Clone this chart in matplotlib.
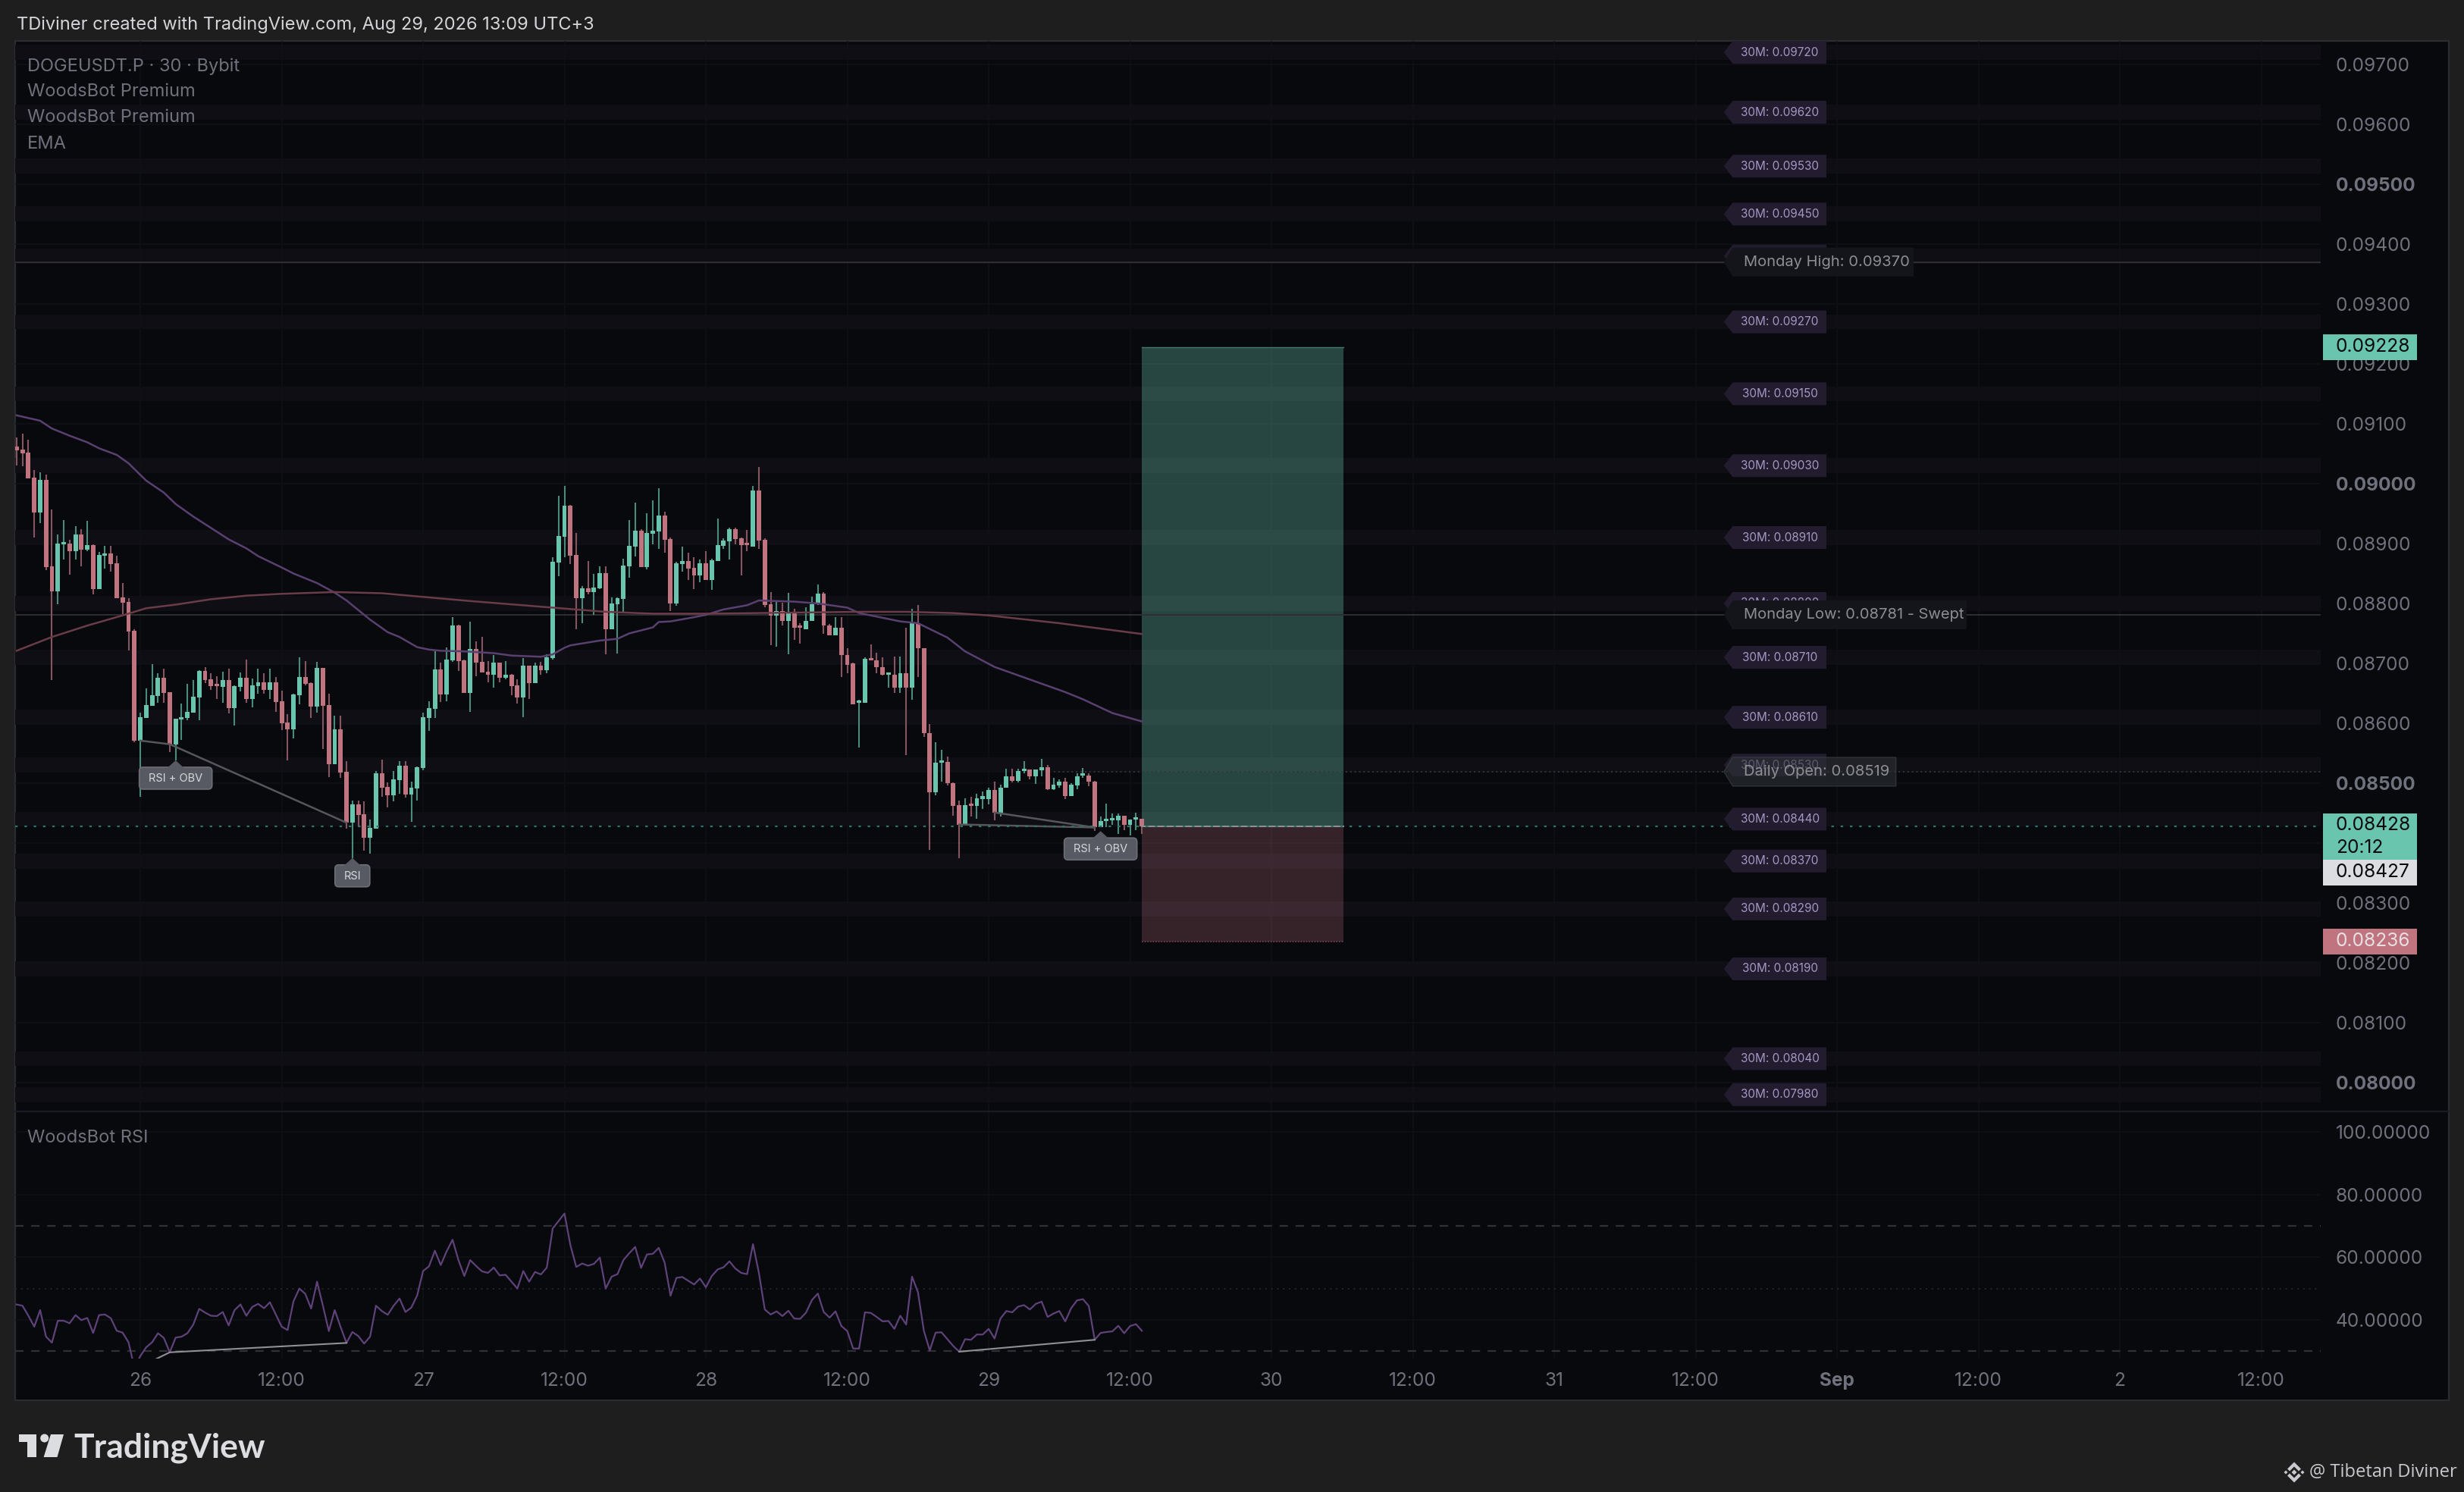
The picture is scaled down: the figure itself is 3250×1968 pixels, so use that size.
import numpy as np
import matplotlib
matplotlib.use("Agg")
import matplotlib.pyplot as plt
from matplotlib.patches import Rectangle, Polygon, Circle, FancyBboxPatch

plt.rcParams["font.family"] = ["Inter", "DejaVu Sans"]

# prices below are in ticks of 0.00001, bar index 0 = Aug 26 00:00 (30 min bars)
first_bar = -21
opens = [
    9062,9057,9052,9010,8952,9006,8862,8820,8899,8900,
    8887,8915,8890,8897,8824,8880,8883,8867,8810,8803,
    8754,8571,8609,8629,8646,8676,8652,8565,8606,8609,
    8618,8643,8687,8673,8665,8661,8672,8625,8661,8676,
    8641,8662,8668,8656,8668,8637,8601,8590,8647,8677,
    8667,8628,8692,8630,8532,8590,8519,8434,8465,8448,
    8409,8424,8516,8494,8480,8505,8529,8481,8491,8525,
    8609,8624,8690,8648,8705,8763,8705,8651,8724,8702,
    8686,8681,8701,8676,8681,8663,8643,8696,8667,8696,
    8689,8709,8868,8911,8963,8881,8809,8825,8819,8825,
    8851,8757,8799,8808,8862,8895,8921,8861,8916,8920,
    8947,8908,8800,8866,8871,8859,8847,8867,8839,8871,
    8896,8904,8924,8909,8900,8895,8989,8906,8799,8780,
    8787,8771,8785,8760,8757,8771,8799,8816,8763,8747,
    8760,8714,8700,8634,8634,8708,8705,8694,8681,8681,
    8660,8683,8660,8767,8725,8584,8485,8534,8535,8500,
    8463,8431,8463,8462,8474,8474,8488,8451,8492,8511,
    8504,8520,8523,8511,8521,8527,8490,8496,8502,8478,
    8496,8513,8513,8503,8426,8437,8438,8438,8445,8430,
    8439,8441]
closes = [
    9056,9051,9009,8952,9006,8861,8820,8900,8901,8887,
    8915,8890,8897,8824,8881,8883,8866,8809,8801,8753,
    8571,8610,8630,8647,8676,8651,8565,8608,8610,8619,
    8644,8687,8672,8662,8662,8672,8625,8662,8676,8641,
    8663,8668,8656,8668,8635,8600,8590,8648,8677,8666,
    8628,8692,8629,8532,8590,8518,8434,8465,8447,8409,
    8425,8516,8492,8480,8506,8529,8481,8492,8527,8610,
    8625,8690,8648,8706,8763,8704,8651,8724,8701,8685,
    8681,8701,8676,8681,8662,8643,8696,8667,8696,8689,
    8710,8870,8913,8963,8880,8809,8825,8819,8827,8851,
    8757,8800,8809,8863,8896,8921,8861,8918,8921,8947,
    8906,8800,8867,8871,8858,8847,8867,8839,8872,8897,
    8905,8924,8908,8897,8897,8989,8905,8797,8780,8787,
    8771,8785,8759,8759,8771,8799,8816,8763,8747,8760,
    8714,8698,8632,8635,8707,8705,8694,8681,8683,8660,
    8683,8660,8767,8725,8584,8485,8534,8535,8500,8462,
    8431,8463,8462,8475,8476,8488,8451,8493,8511,8504,
    8520,8523,8511,8523,8527,8490,8497,8502,8478,8497,
    8511,8516,8502,8426,8437,8439,8441,8445,8430,8439,
    8441,8428]
highs = [
    9077,9084,9073,9023,9019,9015,8957,8915,8939,8906,
    8929,8924,8938,8899,8886,8896,8896,8880,8834,8809,
    8757,8618,8658,8699,8683,8691,8652,8608,8633,8666,
    8672,8689,8694,8684,8679,8686,8691,8663,8685,8706,
    8675,8691,8684,8691,8677,8654,8615,8649,8710,8704,
    8668,8703,8692,8649,8613,8613,8537,8471,8471,8470,
    8439,8520,8539,8501,8520,8537,8537,8503,8528,8618,
    8637,8720,8701,8727,8777,8765,8706,8770,8737,8744,
    8704,8714,8701,8704,8682,8673,8709,8696,8701,8702,
    8715,8877,8980,8996,8965,8918,8829,8871,8849,8862,
    8862,8810,8810,8875,8939,8968,8924,8951,8972,8992,
    8953,8910,8870,8895,8885,8877,8873,8887,8875,8942,
    8909,8927,8927,8910,8923,8996,9028,8909,8819,8804,
    8801,8818,8791,8767,8794,8811,8832,8819,8766,8777,
    8777,8725,8701,8639,8710,8732,8718,8710,8683,8711,
    8711,8760,8791,8798,8725,8599,8568,8556,8544,8501,
    8471,8475,8477,8482,8486,8492,8503,8497,8524,8524,
    8524,8537,8523,8523,8540,8530,8509,8506,8509,8500,
    8516,8525,8517,8504,8444,8466,8450,8450,8445,8439,
    8451,8441]
lows = [
    9030,9029,9009,8910,8934,8856,8672,8799,8873,8848,
    8873,8862,8887,8815,8824,8858,8853,8809,8782,8722,
    8568,8477,8609,8629,8634,8634,8552,8538,8572,8605,
    8618,8605,8667,8656,8641,8634,8617,8596,8653,8634,
    8627,8649,8649,8641,8619,8589,8538,8575,8632,8663,
    8609,8618,8557,8510,8532,8509,8424,8375,8427,8387,
    8382,8424,8477,8459,8470,8482,8476,8435,8471,8522,
    8587,8609,8635,8637,8703,8687,8651,8619,8678,8685,
    8668,8659,8668,8673,8647,8633,8610,8640,8667,8681,
    8684,8706,8846,8877,8866,8757,8767,8815,8781,8824,
    8715,8757,8716,8785,8843,8878,8861,8857,8899,8891,
    8885,8787,8796,8853,8839,8824,8835,8839,8823,8871,
    8891,8873,8899,8847,8887,8895,8891,8794,8730,8728,
    8763,8715,8739,8733,8757,8771,8797,8749,8747,8747,
    8677,8683,8631,8559,8634,8705,8683,8680,8659,8650,
    8650,8547,8639,8677,8577,8388,8480,8503,8496,8445,
    8375,8430,8444,8440,8457,8464,8438,8444,8492,8501,
    8501,8516,8506,8499,8511,8488,8489,8492,8474,8478,
    8490,8509,8495,8420,8426,8426,8431,8415,8422,8413,
    8422,8415]

# EMA lines, read at their visible bends
ema_fast_x = [-21,-17,-15,-12,-9,-7,-4,-2,1,4,6,9,12,15,18,20,24,26,30,33,35,37,39,42,44,47,49,51,55,60,63,68,70,72,73,78,81,83,87,88,90,94,96,99,103,105,111,115,120,122,129,132,137,140,145,151,157,160,165,170]
ema_fast = [9114,9105,9092,9080,9069,9059,9048,9034,9005,8985,8966,8945,8926,8907,8892,8879,8860,8850,8834,8818,8805,8789,8773,8752,8744,8727,8723,8721,8720,8717,8713,8711,8715,8726,8730,8738,8741,8750,8760,8769,8770,8777,8781,8790,8797,8805,8803,8800,8793,8784,8770,8767,8743,8720,8694,8673,8652,8640,8617,8603]
ema_slow_x = [-21,-15,-9,-3,1,6,12,18,24,33,41,56,70,79,87,96,122,130,138,144,156,170]
ema_slow = [8721,8744,8763,8780,8792,8798,8807,8813,8816,8819,8817,8804,8793,8786,8783,8783,8786,8786,8784,8780,8767,8749]

# RSI, one value per bar
rsi = [
    44.9,44.5,41.3,37.8,43.1,34.6,32.7,39.7,39.7,38.9,
    41.5,39.9,40.6,35.8,41.5,41.7,40.5,36.5,35.9,32.8,
    24.7,28.4,31.2,32.8,35.7,34.2,29.6,34.3,34.6,35.7,
    38.5,43.5,42.3,41.3,41.2,42.5,38.2,43.1,44.9,41.3,
    44.1,45.1,43.7,45.6,41.7,37.8,36.7,45.9,50.0,48.3,
    43.6,52.2,44.5,36.4,43.1,37.7,32.6,36.1,34.8,32.4,
    34.6,44.5,42.8,41.6,44.5,46.8,42.5,43.9,47.8,55.6,
    57.1,62.1,57.5,61.9,65.6,59.1,54.0,59.1,57.2,55.5,
    55.0,56.7,54.2,54.4,52.2,50.0,55.6,52.2,55.3,54.5,
    56.7,69.2,71.6,74.0,63.9,56.9,58.0,57.3,57.9,59.9,
    50.0,53.8,54.6,59.1,61.3,63.3,56.6,60.9,61.1,63.0,
    58.3,47.7,53.4,53.7,52.5,51.3,53.2,50.4,54.0,56.1,
    56.8,58.7,56.4,55.0,54.6,64.2,55.0,43.3,41.7,42.7,
    41.2,42.9,40.4,40.3,42.3,46.3,48.4,42.5,40.7,42.7,
    38.0,36.4,30.8,30.8,42.4,42.2,40.9,39.5,39.6,37.1,
    41.3,38.5,53.8,48.8,36.5,30.2,35.9,36.0,33.8,31.6,
    29.8,33.8,33.6,35.3,35.3,37.1,34.0,40.4,42.8,42.4,
    44.2,44.7,43.3,45.1,45.8,40.9,42.0,42.8,39.5,43.7,
    46.2,46.6,44.4,33.6,35.8,36.1,36.3,38.1,35.7,38.0,
    38.6,36.5]

# divergence lines as (bar, value) pairs
div_price = [([0, 5, 35], [8571, 8565, 8434]),
             ([139, 162], [8431, 8426]),
             ([145, 162], [8451, 8426])]
div_rsi = [([0, 5, 35], [25.0, 29.6, 32.6]),
           ([139, 162], [29.8, 33.6])]
# callouts: bar, price of the pointer tip, text
signals = [(6, 8538, "RSI + OBV"), (36, 8375, "RSI"), (163, 8420, "RSI + OBV")]

levels_30m = [9720, 9620, 9530, 9450, 9380, 9270, 9150, 9030, 8910, 8800,
              8710, 8610, 8530, 8440, 8370, 8290, 8190, 8040, 7980]
monday_high = 9370
monday_low = 8781
daily_open = 8519
last_price = 8428
bid_price = 8427
target = 9228
stop = 8236
box_bars = (170, 204.2)

price_ticks = list(range(8000, 9701, 100))
price_bold = [8000, 8500, 9000, 9500]
rsi_ticks = [40, 60, 80, 100]
time_ticks = list(range(0, 361, 24))
time_labels = ["26", "12:00", "27", "12:00", "28", "12:00", "29", "12:00",
               "30", "12:00", "31", "12:00", "Sep", "12:00", "2", "12:00"]

FRAME = "#1e1e1e"
PANE = "#08090d"
BAND = "#0f0e14"
GRID = "#101116"
TEXT = "#6f727c"
UP, DOWN = "#69c5ae", "#c07480"
UP_W, DOWN_W = "#4b8b7c", "#875560"
TICK = 1e-5

W, H = 3250, 1968
fig = plt.figure(figsize=(W / 100, H / 100), dpi=100, facecolor=FRAME)


def ax_box(x0, y0, x1, y1):
    return [x0 / W, 1 - y1 / H, (x1 - x0) / W, (y1 - y0) / H]


back = fig.add_axes([0, 0, 1, 1], zorder=0)
back.set_xlim(0, W)
back.set_ylim(H, 0)
back.axis("off")
back.add_patch(Rectangle((20, 54), 3210, 1793, fc=PANE, ec="#2b2c31", lw=1.6))

ax = fig.add_axes(ax_box(20, 54, 3061, 1466), zorder=1, facecolor="none")
ar = fig.add_axes(ax_box(20, 1467, 3061, 1792), zorder=1, facecolor="none", sharex=ax)
top = fig.add_axes([0, 0, 1, 1], zorder=5, facecolor="none")
top.set_xlim(0, W)
top.set_ylim(H, 0)
top.axis("off")

ax.set_xlim(-21.24, 370.1)
ax.set_ylim(0.07952, 0.09739)
ar.set_ylim(27.6, 106.4)
for a in (ax, ar):
    for s in a.spines.values():
        s.set_visible(False)
    a.yaxis.tick_right()
    a.grid(True, color=GRID, lw=1.2, zorder=0)
    a.set_axisbelow(True)

# price scale
ax.set_yticks([t * TICK for t in price_ticks])
ax.set_yticklabels([f"{t * TICK:.5f}" for t in price_ticks])
ax.tick_params(axis="y", length=0, pad=14, labelsize=17.6, labelcolor=TEXT)
for t, lab in zip(price_ticks, ax.get_yticklabels()):
    if t in price_bold:
        lab.set_fontweight("bold")
ax.set_xticks(time_ticks)
ax.tick_params(axis="x", length=0, labelbottom=False)

# zones behind the candles
for lv in levels_30m:
    ax.axhspan((lv - 12.5) * TICK, (lv + 12.5) * TICK, fc=BAND, lw=0, zorder=0.5)

# position box
ax.add_patch(Rectangle((box_bars[0], last_price * TICK), box_bars[1] - box_bars[0],
                       (target - last_price) * TICK, fc=UP, alpha=0.33, lw=0, zorder=1))
ax.add_patch(Rectangle((box_bars[0], stop * TICK), box_bars[1] - box_bars[0],
                       (last_price - stop) * TICK, fc=DOWN, alpha=0.25, lw=0, zorder=1))
ax.plot(box_bars, [last_price * TICK] * 2, color="#8b9094", lw=1.5, zorder=3)
ax.plot(box_bars, [stop * TICK] * 2, color="#6e3d47", lw=1.3, ls=(0, (1, 1)), zorder=3)
ax.plot(box_bars, [target * TICK] * 2, color="#3f7a6b", lw=1, zorder=3)

# horizontal levels
ax.axhline(monday_high * TICK, color="#302e32", lw=1.4, zorder=1.5)
ax.axhline(monday_low * TICK, color="#302e32", lw=1.4, zorder=1.5)
ax.plot([155, 370.1], [daily_open * TICK] * 2, color="#33353a", lw=1.4, ls=(0, (1, 2)), zorder=1.5)
ax.axhline(last_price * TICK, color="#2f7567", lw=1.6, ls=(0, (1.5, 4)), zorder=6)

# candles
bars = np.arange(first_bar, first_bar + len(opens))
o, h, l, c = [np.array(v) * TICK for v in (opens, highs, lows, closes)]
up = c >= o
ax.vlines(bars, l, h, colors=np.where(up, UP_W, DOWN_W), lw=1.5, zorder=2)
ax.bar(bars, np.maximum(np.abs(c - o), 4e-5), bottom=np.minimum(o, c), width=0.76,
       color=np.where(up, UP, DOWN), lw=0, zorder=2.5)

# EMAs and divergence lines
ax.plot(ema_fast_x, np.array(ema_fast) * TICK, color="#5a4070", lw=1.8, zorder=4)
ax.plot(ema_slow_x, np.array(ema_slow) * TICK, color="#6a3c48", lw=1.8, zorder=4)
for xs, ps in div_price:
    ax.plot(xs, np.array(ps) * TICK, color="#55575c", lw=1.8, zorder=4)


def px(bar, price):
    x, y = ax.transData.transform((bar, price * TICK))
    return x, H - y


# signal callouts
for bar, tip, label in signals:
    x, y = px(bar, tip)
    half = 48 if "OBV" in label else 23
    top.add_patch(FancyBboxPatch((x - half + 3, y + 12), 2 * half - 6, 23,
                                 boxstyle="round,pad=3,rounding_size=5",
                                 fc="#575a62", ec="#6c6f76", lw=1.2))
    top.add_patch(Polygon([(x - 11, y + 10), (x, y), (x + 11, y + 10)], fc="#575a62", lw=0))
    top.text(x, y + 24, label, color="#d6d7da", fontsize=10.5, ha="center", va="center")


# pentagon tags sitting on the right part of the pane
def tag(price, x1, half_h, fc, ec="none", z=7, alpha=1.0):
    x_tip, y = px(268.8, price)
    x0 = px(270.3, price)[0]
    x1 = px(x1, price)[0]
    top.add_patch(Polygon([(x_tip, y), (x0, y - half_h), (x1, y - half_h),
                           (x1, y + half_h), (x0, y + half_h)],
                          closed=True, fc=fc, ec=ec, lw=1, zorder=z, alpha=alpha))


for lv in levels_30m:
    tag(lv, 286.2, 15, "#221c2e", z=2)
    x, y = px(278.3, lv)
    top.text(x, y, f"30M: {lv * TICK:.5f}", color="#a597c4", fontsize=11,
             ha="center", va="center", zorder=3)

for price, right, label in [(monday_high, 301.0, f"Monday High: {monday_high * TICK:.5f}"),
                            (monday_low, 310.0, f"Monday Low: {monday_low * TICK:.5f} - Swept")]:
    tag(price, right, 19, "#14151a", z=4)
    x, y = px(272.2, price)
    top.text(x, y, label, color="#8d8e92", fontsize=14.5, ha="left", va="center", zorder=5)

tag(daily_open, 298.0, 19, "#2c3135", ec="#3f4448", z=4, alpha=0.6)
x, y = px(272.2, daily_open)
top.text(x, y, f"Daily Open: {daily_open * TICK:.5f}", color="#8d8f93", fontsize=14.5,
         ha="left", va="center", zorder=5)


# coloured boxes on the price scale
def scale_box(y0, y1, fc, lines, color):
    top.add_patch(Rectangle((3064, y0), 124, y1 - y0, fc=fc, lw=0, zorder=8))
    step = (y1 - y0) / len(lines)
    for n, s in enumerate(lines):
        top.text(3081, y0 + step * (n + 0.5), s, color=color, fontsize=17.6,
                 ha="left", va="center", zorder=9)


y_t = px(0, target)[1]
y_s = px(0, stop)[1]
y_l = px(0, last_price)[1]
scale_box(y_t - 17, y_t + 17, UP, [f"{target * TICK:.5f}"], "#08090d")
scale_box(y_l - 17, y_l + 44, UP, [f"{last_price * TICK:.5f}", "20:12"], "#08090d")
scale_box(y_l + 44, y_l + 78, "#dcdde0", [f"{bid_price * TICK:.5f}"], "#08090d")
scale_box(y_s - 17, y_s + 17, DOWN, [f"{stop * TICK:.5f}"], "#e6e0e2")

# RSI pane
ar.axhline(70, color="#303137", lw=1.6, ls=(0, (5, 4.5)), zorder=1)
ar.axhline(30, color="#303137", lw=1.6, ls=(0, (5, 4.5)), zorder=1)
ar.axhline(50, color="#24252b", lw=1.4, ls=(0, (1, 3)), zorder=1)
ar.plot(bars, rsi, color="#5e4279", lw=1.6, zorder=3)
for xs, vs in div_rsi:
    ar.plot(xs, vs, color="#8f9095", lw=1.5, zorder=4)
ar.set_yticks(rsi_ticks)
ar.set_yticklabels([f"{v:.5f}" for v in rsi_ticks])
ar.tick_params(axis="y", length=0, pad=14, labelsize=17.6, labelcolor=TEXT)
ar.set_xticks(time_ticks)
ar.set_xticklabels(time_labels)
ar.tick_params(axis="x", length=0, pad=13, labelsize=17.6, labelcolor=TEXT)
for s, lab in zip(time_labels, ar.get_xticklabels()):
    if s == "Sep":
        lab.set_fontweight("bold")

# frame texts
top.plot([20, 3230], [1466, 1466], color="#1c1a27", lw=1.6)
top.text(22, 33, "TDiviner created with TradingView.com, Aug 29, 2026 13:09 UTC+3",
         color="#d4d5d8", fontsize=17, ha="left", va="center")
for y, s in [(88, "DOGEUSDT.P · 30 · Bybit"), (121, "WoodsBot Premium"),
             (155, "WoodsBot Premium"), (190, "EMA")]:
    top.text(36, y, s, color=TEXT, fontsize=17, ha="left", va="center")
top.text(36, 1501, "WoodsBot RSI", color=TEXT, fontsize=17, ha="left", va="center")

# TradingView wordmark
LOGO = "#dcdde0"
top.add_patch(Polygon([(24.5, 1892), (47.5, 1892), (47.5, 1922), (35.7, 1922), (35.7, 1902), (24.5, 1902)],
                      fc=LOGO, lw=0))
top.add_patch(Circle((58.7, 1897), 5.5, fc=LOGO, lw=0))
top.add_patch(Polygon([(67, 1892), (84, 1892), (75.5, 1922), (57.6, 1922)], fc=LOGO, lw=0))
top.text(97, 1922, "TradingView", color=LOGO, fontsize=32, fontweight="bold",
         ha="left", va="baseline", family=["Lato", "DejaVu Sans"])

# watermark
MARK = "#c8c9ce"
cx, cy = 3026, 1942
for dx, r in [(0, 3.5), (-11, 2.5), (11, 2.5)]:
    top.add_patch(Polygon([(cx + dx - r, cy), (cx + dx, cy - r), (cx + dx + r, cy), (cx + dx, cy + r)],
                          fc=MARK, lw=0))
for sign in (-1, 1):
    top.add_patch(Polygon([(cx, cy + sign * 13.5), (cx + 9, cy + sign * 4.5), (cx + 6, cy + sign * 1.5),
                           (cx, cy + sign * 7.5), (cx - 6, cy + sign * 1.5), (cx - 9, cy + sign * 4.5)],
                          fc=MARK, lw=0))
top.text(3046, 1942, "@ Tibetan Diviner", color=MARK, fontsize=17, ha="left", va="center",
         family=["Open Sans", "DejaVu Sans"])

fig.savefig("out.png", dpi=100, facecolor=FRAME)
